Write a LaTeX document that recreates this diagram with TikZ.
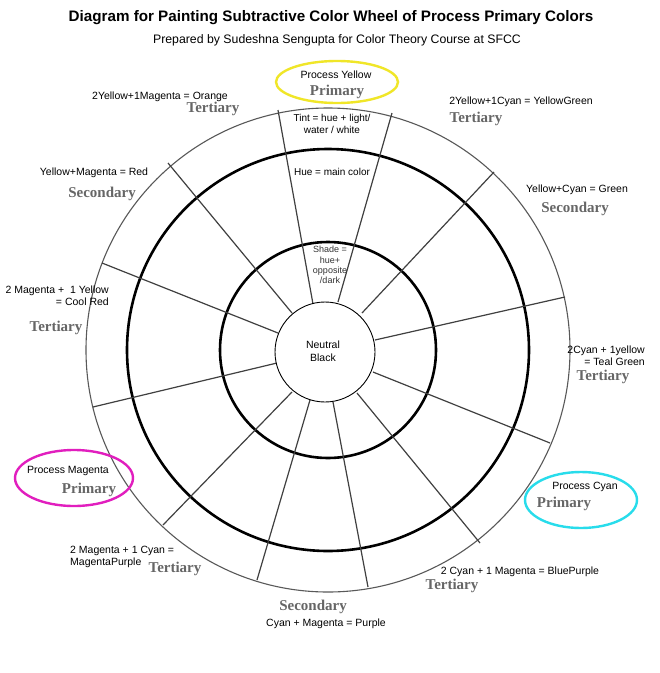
\documentclass[tikz,border=0pt]{standalone}
\usepackage{fontspec}
\setmainfont{Liberation Sans}
\newfontfamily\serifb{Liberation Serif}
\begin{document}
\begin{tikzpicture}[x=1pt,y=-1pt,
  lbl/.style={font=\fontsize{10.5}{12}\selectfont, inner sep=0pt, align=center},
  cat/.style={font=\serifb\bfseries\fontsize{15}{16}\selectfont, text=black!60, inner sep=0pt},
  spoke/.style={draw=black!75, line width=1.2pt},
  ring/.style={draw=black, line width=2.6pt}]
\useasboundingbox[fill=white] (0,0) rectangle (660,673);
% rings
\coordinate (c) at (328,350);
\draw[draw=black!65, line width=1.1pt] (c) circle[radius=242];
\draw[ring] (c) circle[radius=201];
\draw[ring] (c) circle[radius=108];
% spokes
\foreach \i/\ox/\oy/\ix/\iy in {1/278/110/313/304, 2/392/113/338/302, 3/494/172/362/313,
  4/565/297/375/340, 5/550/443/373/372, 6/480/543/357/393, 7/368/587/333/402,
  8/257/580/310/400, 9/163/525/292/392, 10/93/407/277/363, 11/102/263/278/333, 12/168/163/292/313}{
  \coordinate (o\i) at (\ox,\oy); \coordinate (n\i) at (\ix,\iy);
  \draw[spoke] (o\i) -- (n\i);
}
\node[circle, draw=black, line width=0.9pt, fill=white, minimum size=100pt, inner sep=0pt] (nb) at (325,352) {};
\node[lbl, font=\fontsize{10.5}{13}\selectfont] (nbt) at (323,351) {Neutral\\Black};
% title
\node[font=\bfseries\fontsize{15.2}{17}\selectfont, inner sep=0pt] (title) at (331,18) {Diagram for Painting Subtractive Color Wheel of Process Primary Colors};
\node[font=\fontsize{12.3}{14}\selectfont, inner sep=0pt] (sub) at (337,40) {Prepared by Sudeshna Sengupta for Color Theory Course at SFCC};
% primaries
\draw[draw={rgb,255:red,240;green,230;blue,40}, line width=2.4pt] (337,82) ellipse[x radius=61, y radius=21];
\node[lbl] (py) at (336,75) {Process Yellow};
\node[cat] (pyp) at (337,92) {Primary};
\draw[draw={rgb,255:red,225;green,30;blue,190}, line width=2.4pt] (74,478) ellipse[x radius=59, y radius=28];
\node[lbl] (pm) at (68,471) {Process Magenta};
\node[cat] (pmp) at (89,490) {Primary};
\draw[draw={rgb,255:red,40;green,220;blue,235}, line width=2.4pt] (581,500) ellipse[x radius=56, y radius=28];
\node[lbl] (pc) at (585,487) {Process Cyan};
\node[cat] (pcp) at (564,504) {Primary};
% mixes
\node[lbl] (t1) at (160,97) {2Yellow+1Magenta = Orange};
\node[cat] (t1c) at (213,109) {Tertiary};
\node[lbl] (t2) at (521,102) {2Yellow+1Cyan = YellowGreen};
\node[cat] (t2c) at (476,119) {Tertiary};
\node[lbl] (s1) at (94,173) {Yellow+Magenta = Red};
\node[cat] (s1c) at (102,194) {Secondary};
\node[lbl] (s2) at (577,190) {Yellow+Cyan = Green};
\node[cat] (s2c) at (575,209) {Secondary};
\node[lbl, align=right, anchor=north east] (t3) at (109,286) {2 Magenta +\ \ 1 Yellow\\= Cool Red};
\node[cat] (t3c) at (56,328) {Tertiary};
\node[lbl, align=right, anchor=north east] (t4) at (645,346) {2Cyan + 1yellow\\= Teal Green};
\node[cat] (t4c) at (603,377) {Tertiary};
\node[lbl, align=left, anchor=north west] (t5) at (70,546) {2 Magenta + 1 Cyan =\\MagentaPurple};
\node[cat] (t5c) at (175,569) {Tertiary};
\node[lbl] (t6) at (520,572) {2 Cyan + 1 Magenta = BluePurple};
\node[cat] (t6c) at (452,586) {Tertiary};
\node[cat] (s3c) at (313,607) {Secondary};
\node[lbl] (s3) at (326,624) {Cyan + Magenta = Purple};
% inner labels
\node[lbl, font=\fontsize{10}{12.5}\selectfont] (tint) at (332,124) {Tint = hue + light/\\water / white};
\node[lbl, font=\fontsize{10}{12}\selectfont] (hue) at (332,172) {Hue = main color};
\node[lbl, font=\fontsize{9}{10.3}\selectfont, text=black!80] (shade) at (330,265) {Shade =\\hue+\\opposite\\/dark};
\end{tikzpicture}
\end{document}
